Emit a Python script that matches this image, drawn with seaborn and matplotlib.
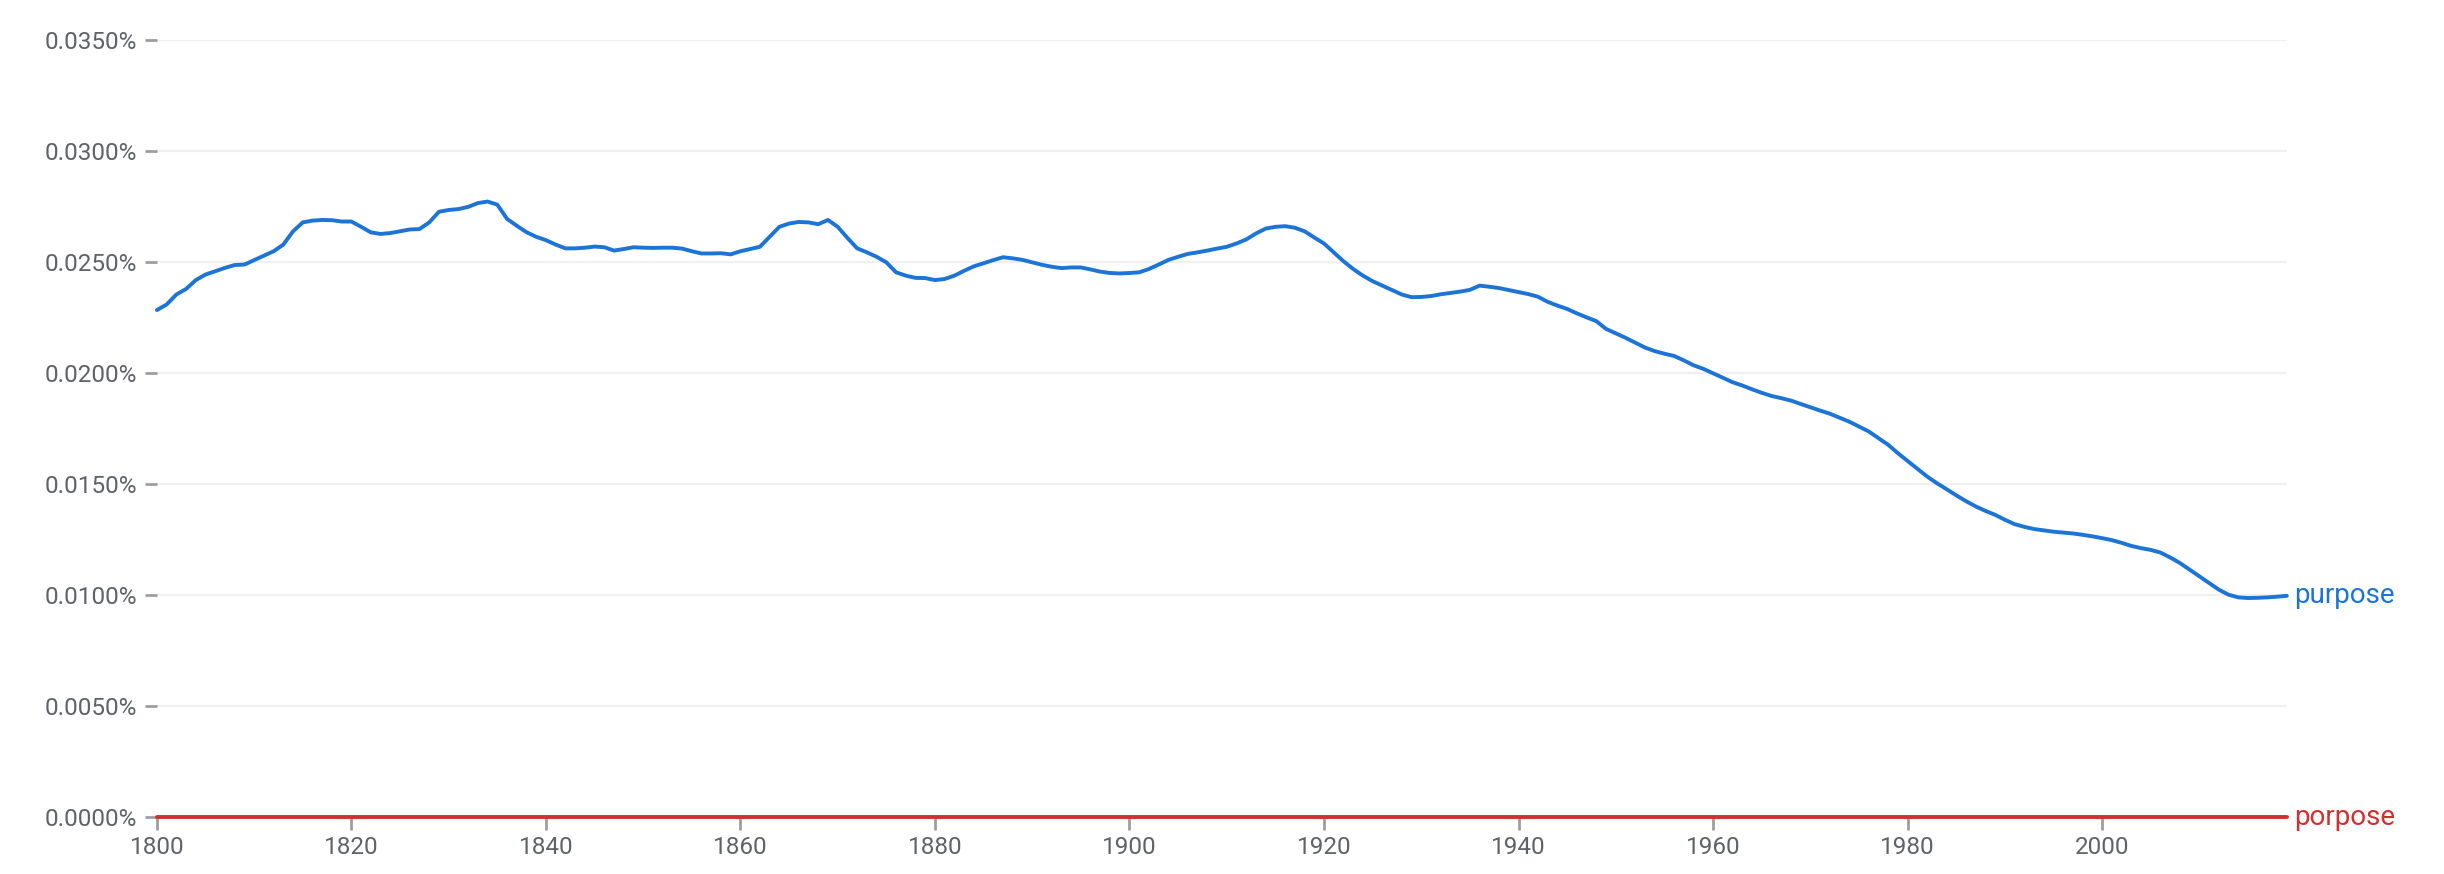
import pandas as pd
import seaborn as sns
import matplotlib.pyplot as plt
from matplotlib.ticker import FuncFormatter

# values (percent)
years = list(range(1800, 2020))
purpose = [
    0.02285, 0.02310, 0.02355, 0.02380, 0.02420, 0.02445, 0.02460, 0.02475, 0.02488, 0.02490,
    0.02510, 0.02530, 0.02550, 0.02580, 0.02640, 0.02680, 0.02688, 0.02691, 0.02690, 0.02684,
    0.02684, 0.02660, 0.02635, 0.02628, 0.02632, 0.02640, 0.02648, 0.02650, 0.02680, 0.02728,
    0.02736, 0.02740, 0.02750, 0.02767, 0.02774, 0.02760, 0.02696, 0.02665, 0.02636, 0.02615,
    0.02600, 0.02580, 0.02563, 0.02563, 0.02566, 0.02571, 0.02568, 0.02553, 0.02560, 0.02568,
    0.02566, 0.02565, 0.02566, 0.02566, 0.02562, 0.02550, 0.02540, 0.02540, 0.02541, 0.02536,
    0.02550, 0.02560, 0.02570, 0.02615, 0.02660, 0.02675, 0.02682, 0.02680, 0.02672, 0.02691,
    0.02660, 0.02610, 0.02563, 0.02545, 0.02525, 0.02500, 0.02455, 0.02440, 0.02430, 0.02429,
    0.02420, 0.02425, 0.02440, 0.02462, 0.02482, 0.02496, 0.02510, 0.02523, 0.02518, 0.02511,
    0.02500, 0.02489, 0.02480, 0.02474, 0.02477, 0.02477, 0.02468, 0.02458, 0.02452, 0.02450,
    0.02452, 0.02455, 0.02470, 0.02490, 0.02511, 0.02525, 0.02538, 0.02545, 0.02553, 0.02562,
    0.02570, 0.02585, 0.02603, 0.02630, 0.02652, 0.02660, 0.02663, 0.02656, 0.02640, 0.02612,
    0.02585, 0.02545, 0.02505, 0.02470, 0.02440, 0.02415, 0.02395, 0.02375, 0.02355, 0.02343,
    0.02344, 0.02348, 0.02356, 0.02362, 0.02368, 0.02376, 0.02395, 0.02390, 0.02384, 0.02375,
    0.02366, 0.02357, 0.02345, 0.02322, 0.02305, 0.02290, 0.02270, 0.02252, 0.02235, 0.02200,
    0.02180, 0.02160, 0.02138, 0.02116, 0.02100, 0.02088, 0.02078, 0.02058, 0.02036, 0.02020,
    0.02000, 0.01980, 0.01960, 0.01945, 0.01928, 0.01912, 0.01898, 0.01888, 0.01877, 0.01862,
    0.01847, 0.01832, 0.01818, 0.01800, 0.01782, 0.01760, 0.01738, 0.01708, 0.01678, 0.01640,
    0.01605, 0.01570, 0.01535, 0.01505, 0.01478, 0.01450, 0.01424, 0.01400, 0.01380, 0.01362,
    0.01340, 0.01320, 0.01308, 0.01298, 0.01292, 0.01286, 0.01282, 0.01278, 0.01272, 0.01265,
    0.01257, 0.01248, 0.01236, 0.01222, 0.01212, 0.01204, 0.01192, 0.01170, 0.01145, 0.01115,
    0.01085, 0.01055, 0.01025, 0.01002, 0.00990, 0.00987, 0.00988, 0.00990, 0.00993, 0.00997,
]
porpose = [0.0] * len(years)

words = ["purpose", "porpose"]
colors = {"purpose": "#1b74d6", "porpose": "#d32f2f"}

df = pd.DataFrame({
    "year": years * 2,
    "freq": purpose + porpose,
    "word": ["purpose"] * len(years) + ["porpose"] * len(years),
})

sns.set_style("white")
plt.rcParams["font.family"] = ["Roboto", "DejaVu Sans"]

fig = plt.figure(figsize=(24.44, 8.74), dpi=100)
ax = fig.add_axes([0.0642, 0.0652, 0.8715, 0.8885])

sns.lineplot(data=df, x="year", y="freq", hue="word", hue_order=words,
             palette=colors, linewidth=2.8, legend=False, ax=ax, zorder=3)
for ln in ax.lines:
    ln.set_clip_on(False)

ax.set_xlim(1800, 2019)
ax.set_ylim(0, 0.035)
ax.set_xticks(range(1800, 2001, 20))
ax.set_yticks([i * 0.005 for i in range(8)])
ax.yaxis.set_major_formatter(FuncFormatter(lambda v, p: f"{v:.4f}%"))
ax.set_xlabel("")
ax.set_ylabel("")

ax.grid(axis="y", color="#f0f0f0", linewidth=1.6, zorder=0)
ax.grid(axis="x", visible=False)
for s in ax.spines.values():
    s.set_visible(False)

ax.tick_params(axis="both", colors="#9e9e9e", width=2, length=9,
               labelsize=17.5, labelcolor="#5f6368", bottom=True, left=True)
ax.tick_params(axis="y", pad=5)
ax.tick_params(axis="x", pad=5)

# end-of-line labels
for w, vals in [("purpose", purpose), ("porpose", porpose)]:
    ax.annotate(w, xy=(years[-1], vals[-1]), xytext=(5, 0), textcoords="offset points",
                color=colors[w], fontsize=20, va="center", ha="left",
                annotation_clip=False)

fig.savefig("out.png", dpi=100)
